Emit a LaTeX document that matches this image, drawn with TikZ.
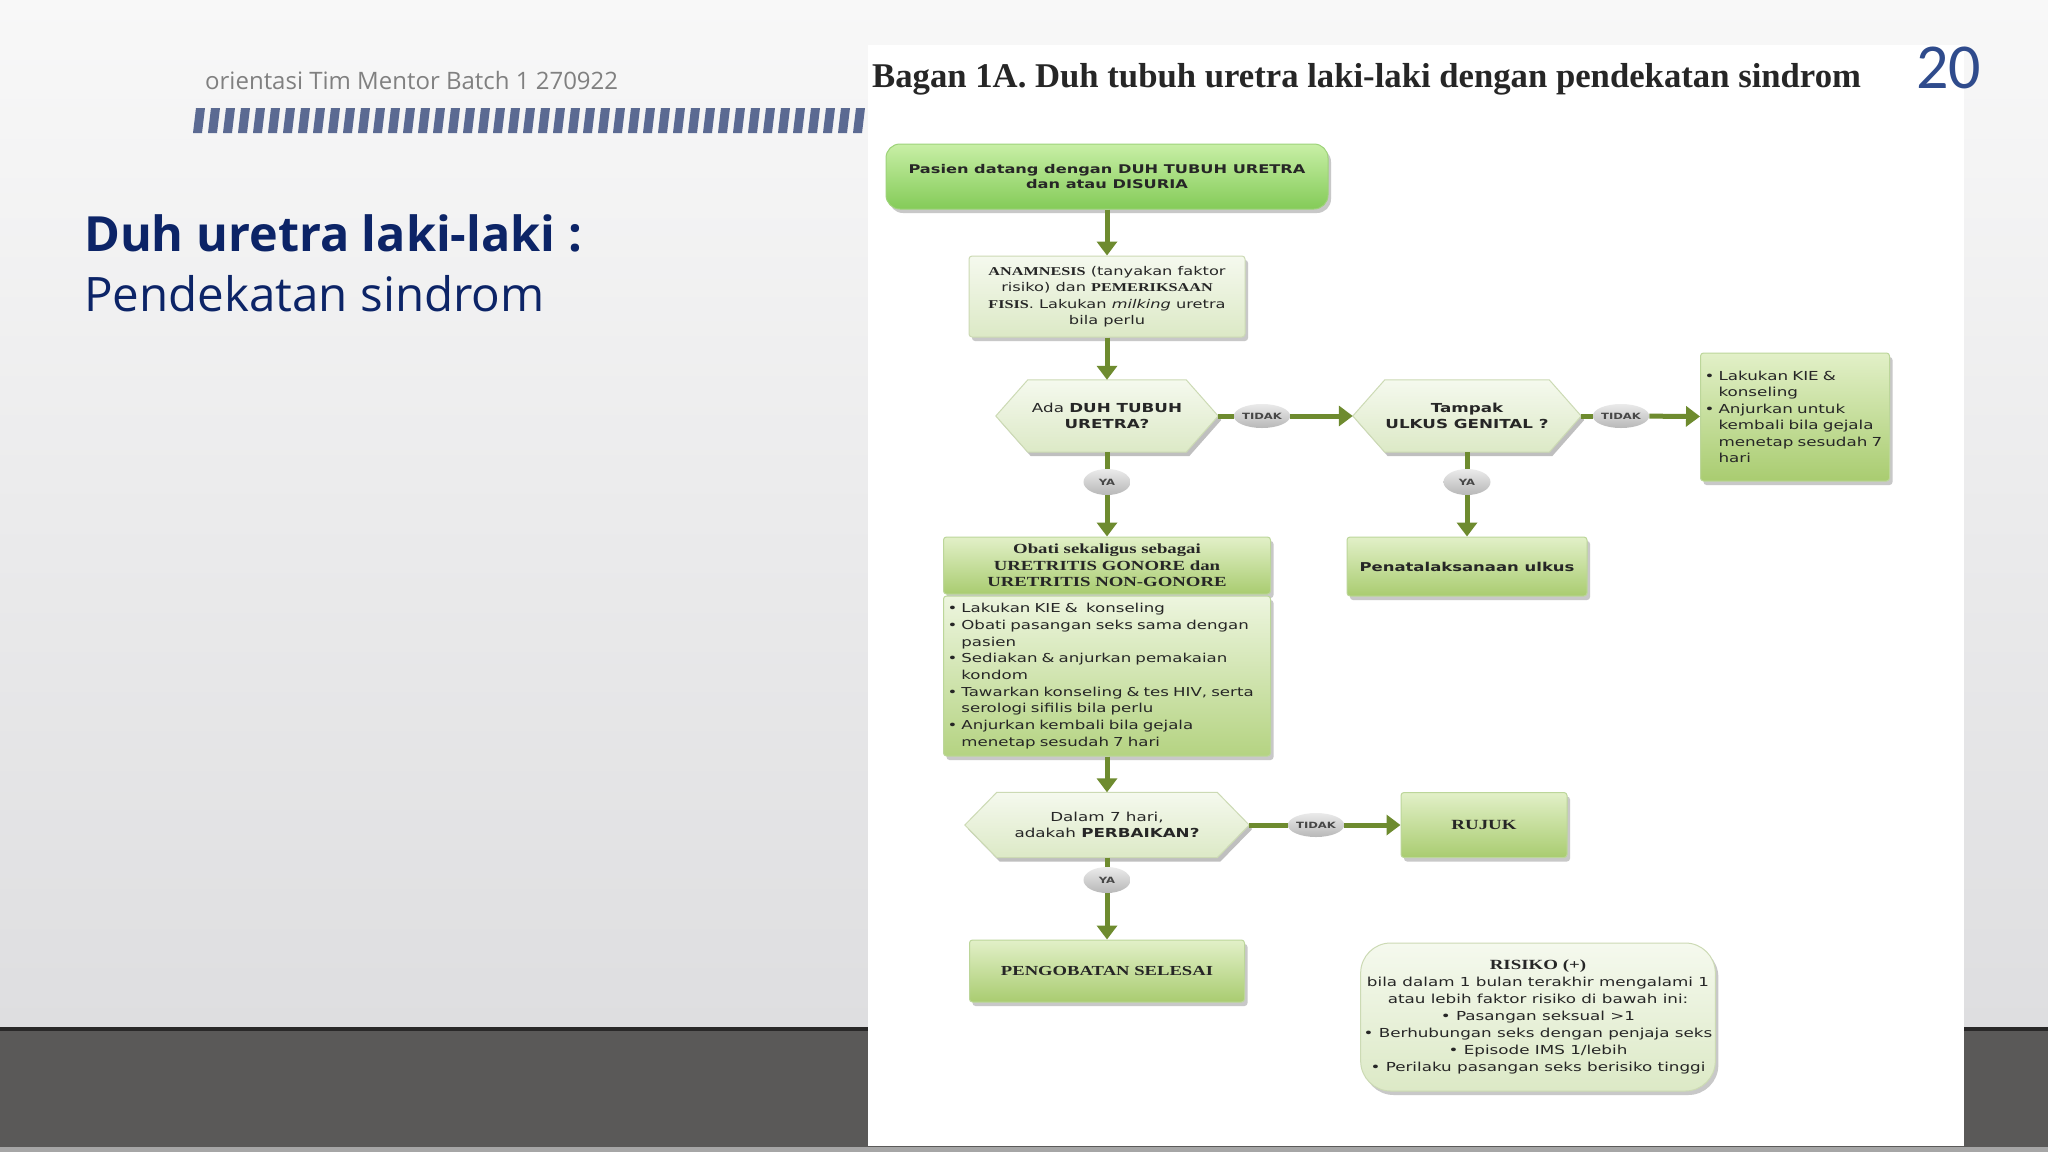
\documentclass[tikz,border=0pt]{standalone}
\usepackage{fontspec}
\usetikzlibrary{shadows,arrows.meta,shapes.geometric}
\newfontfamily\slidefont{Open Sans}
\newfontfamily\numfont{Carlito}
\newfontfamily\fcs[FakeStretch=1.35]{DejaVu Sans}
\newfontfamily\fcr[FakeStretch=1.35]{Liberation Serif}
\newfontfamily\titfont{Liberation Serif}
\pgfdeclarelayer{backdrop}
\pgfdeclarelayer{shapes}
\pgfsetlayers{backdrop,shapes,main}
\definecolor{arrowg}{HTML}{6E8B2F}
\definecolor{bonetop}{HTML}{C8EFA6}
\definecolor{bonebot}{HTML}{84CB58}
\definecolor{boneedge}{HTML}{9ED37A}
\definecolor{gtop}{HTML}{E2F0C8}
\definecolor{gbot}{HTML}{A9CC70}
\definecolor{gedge}{HTML}{BCD69A}
\definecolor{ltop}{HTML}{F5F9EE}
\definecolor{lbot}{HTML}{DCE9C6}
\definecolor{ledge}{HTML}{CCDAB4}
\definecolor{txt}{HTML}{262626}
\definecolor{navy}{HTML}{0C2467}
\definecolor{stripe}{HTML}{5B6A92}
\definecolor{numblue}{HTML}{2F4B8C}
\definecolor{slidetop}{HTML}{F8F8F8}
\definecolor{slidebot}{HTML}{DEDEE0}
\definecolor{band}{HTML}{5A5958}
\begin{document}
\begin{tikzpicture}[x=1pt,y=-1pt,
  shad/.style={drop shadow={shadow xshift=3pt,shadow yshift=-4pt,opacity=0.3,fill=black!70}},
  arr/.style={draw=arrowg,line width=5pt,-{Triangle[width=20pt,length=14pt]}},
  lnk/.style={draw=arrowg,line width=5pt},
  gbox/.style={rectangle,rounded corners=3pt,top color=gtop,bottom color=gbot,draw=gedge,line width=1pt,shad,text=txt,align=center,inner sep=3pt},
  lbox/.style={rectangle,rounded corners=3pt,top color=ltop,bottom color=lbot,draw=ledge,line width=1pt,shad,text=txt,align=center,inner sep=3pt},
  hexnode/.style={rectangle,draw=none,text=txt,align=center,inner sep=2pt,font=\fcs\fontsize{12.4}{15.5}\selectfont},
  lab/.style={ellipse,minimum width=52pt,minimum height=24pt,inner sep=0pt,top color=black!8,bottom color=black!28,text=txt!85,font=\fcs\bfseries\fontsize{8.6}{10}\selectfont},
  hexfill/.style={top color=ltop,bottom color=lbot,draw=ledge,line width=1pt},
]
\useasboundingbox (0,0) rectangle (2048,1152);
% ---------- slide backdrop ----------
\begin{pgfonlayer}{backdrop}
\shade[top color=slidetop,bottom color=slidebot] (0,0) rectangle (2048,1027);
\fill[band] (0,1027) rectangle (2048,1152);
\fill[black!55!band] (0,1027) rectangle (2048,1031);
\fill[black!35] (0,1147) rectangle (2048,1152);
\foreach \i in {0,...,45} {
  \fill[stripe] (193+\i*15,133) -- (202+\i*15,133) -- (205+\i*15,108) -- (196+\i*15,108) -- cycle;
}
\fill[white] (868,45) rectangle (1964,1146);
\end{pgfonlayer}
% ---------- slide texts ----------
\node[anchor=base west,text=black!50,font=\slidefont\fontsize{24}{28}\selectfont,inner sep=0pt] (hdr) at (205,89) {orientasi Tim Mentor Batch 1 270922};
\node[anchor=base west,text=navy,font=\slidefont\bfseries\fontsize{48.5}{56}\selectfont,inner sep=0pt] (t1line) at (84,251) {Duh uretra laki-laki :};
\node[anchor=base west,text=navy,font=\slidefont\fontsize{47.5}{56}\selectfont,inner sep=0pt] (t2line) at (84,311) {Pendekatan sindrom};
\node[anchor=base west,text=numblue,font=\numfont\fontsize{64}{70}\selectfont,inner sep=0pt] (pnum) at (1916,88) {20};
\node[anchor=base west,text=black!85,font=\titfont\bfseries\fontsize{34.7}{40}\selectfont,inner sep=0pt] (btitle) at (872,87) {Bagan 1A. Duh tubuh uretra laki-laki dengan pendekatan sindrom};
% ---------- flowchart nodes ----------
\node[rectangle,rounded corners=14pt,minimum width=442pt,minimum height=65pt,top color=bonetop,bottom color=bonebot,draw=boneedge,line width=1pt,shad,text=txt,align=center,font=\fcs\bfseries\fontsize{12}{15.5}\selectfont] (b1) at (1107,176.5) {Pasien datang dengan DUH TUBUH URETRA\\dan atau DISURIA};
\node[lbox,minimum width=276pt,minimum height=81pt,font=\fcs\fontsize{12}{16.5}\selectfont] (b2) at (1107,296.5) {{\fcr\bfseries ANAMNESIS} (tanyakan faktor\\risiko) dan {\fcr\bfseries PEMERIKSAAN}\\{\fcr\bfseries FISIS}. Lakukan \textit{milking} uretra\\bila perlu};
\node[hexnode,minimum width=222pt,minimum height=72pt] (h1) at (1107,416) {Ada {\bfseries DUH TUBUH}\\{\bfseries URETRA?}};
\node[lab] (t1) at (1262,416) {TIDAK};
\node[hexnode,minimum width=228pt,minimum height=72pt,font=\fcs\bfseries\fontsize{12.4}{15.5}\selectfont] (h2) at (1467,416) {Tampak\\ULKUS GENITAL ?};
\node[lab] (t2) at (1621,416) {TIDAK};
\node[gbox,minimum width=189pt,minimum height=128pt,text width=181pt,align=left,font=\fcs\fontsize{12.4}{16.5}\selectfont] (bR) at (1795,417) {\textbullet\ Lakukan KIE \&\\\hphantom{\textbullet\ }konseling\\\textbullet\ Anjurkan untuk\\\hphantom{\textbullet\ }kembali bila gejala\\\hphantom{\textbullet\ }menetap sesudah 7\\\hphantom{\textbullet\ }hari};
\node[lab,minimum width=47pt,minimum height=26pt] (ya1) at (1107,482) {YA};
\node[lab,minimum width=47pt,minimum height=26pt] (ya2) at (1467,482) {YA};
\node[gbox,minimum width=327pt,minimum height=57pt,font=\fcr\bfseries\fontsize{13.9}{16.5}\selectfont] (b3h) at (1107,565.5) {Obati sekaligus sebagai\\URETRITIS GONORE dan\\URETRITIS NON-GONORE};
\node[gbox,top color=ltop!60!gtop,bottom color=gbot!80!gtop,minimum width=327pt,minimum height=160pt,text width=319pt,align=left,font=\fcs\fontsize{12.3}{16.7}\selectfont] (b3b) at (1107,676) {\textbullet\ Lakukan KIE \&\ \ konseling\\\textbullet\ Obati pasangan seks sama dengan\\\hphantom{\textbullet\ }pasien\\\textbullet\ Sediakan \& anjurkan pemakaian\\\hphantom{\textbullet\ }kondom\\\textbullet\ Tawarkan konseling \& tes HIV, serta\\\hphantom{\textbullet\ }serologi sifilis bila perlu\\\textbullet\ Anjurkan kembali bila gejala\\\hphantom{\textbullet\ }menetap sesudah 7 hari};
\node[gbox,minimum width=240pt,minimum height=59pt,font=\fcs\bfseries\fontsize{12.2}{16}\selectfont] (bU) at (1467,566.5) {Penatalaksanaan ulkus};
\node[hexnode,minimum width=284pt,minimum height=65pt] (h3) at (1107,825) {Dalam 7 hari,\\adakah {\bfseries PERBAIKAN?}};
\node[lab] (t3) at (1316,825) {TIDAK};
\node[gbox,minimum width=166pt,minimum height=65pt,font=\fcr\bfseries\fontsize{14}{16}\selectfont] (rj) at (1484,825) {RUJUK};
\node[lab,minimum width=47pt,minimum height=26pt] (ya3) at (1107,880) {YA};
\node[gbox,minimum width=275pt,minimum height=62pt,font=\fcr\bfseries\fontsize{13.8}{16}\selectfont] (sel) at (1107,971) {PENGOBATAN SELESAI};
\node[lbox,rounded corners=30pt,minimum width=352pt,minimum height=148pt,font=\fcs\fontsize{12.4}{17}\selectfont] (risk) at (1538,1017) {{\fcr\bfseries\fontsize{14}{17}\selectfont RISIKO (+)}\\bila dalam 1 bulan terakhir mengalami 1\\atau lebih faktor risiko di bawah ini:\\\textbullet\ Pasangan seksual >1\\\textbullet\ Berhubungan seks dengan penjaja seks\\\textbullet\ Episode IMS 1/lebih\\\textbullet\ Perilaku pasangan seks berisiko tinggi};
% ---------- hexagon outlines ----------
\begin{pgfonlayer}{shapes}
\foreach \n in {h1,h2,h3} {
  \begin{scope}[transform canvas={shift={(3pt,-4pt)}}]
  \fill[black,opacity=0.25] (\n.west) -- ([xshift=32pt]\n.north west) -- ([xshift=-32pt]\n.north east) -- (\n.east) -- ([xshift=-32pt]\n.south east) -- ([xshift=32pt]\n.south west) -- cycle;
  \end{scope}
  \shade[hexfill] (\n.west) -- ([xshift=32pt]\n.north west) -- ([xshift=-32pt]\n.north east) -- (\n.east) -- ([xshift=-32pt]\n.south east) -- ([xshift=32pt]\n.south west) -- cycle;
}
\end{pgfonlayer}
% ---------- connectors ----------
\draw[arr] (b1) -- (b2);
\draw[arr] (b2) -- (h1);
\draw[lnk] (h1) -- (t1);
\draw[arr] (t1) -- (h2);
\draw[lnk] (h2) -- (t2);
\draw[arr] (t2) -- (bR);
\draw[lnk] (h1) -- (ya1);
\draw[arr] (ya1) -- (b3h);
\draw[lnk] (h2) -- (ya2);
\draw[arr] (ya2) -- (bU);
\draw[arr] (b3b) -- (h3);
\draw[lnk] (h3) -- (t3);
\draw[arr] (t3) -- (rj);
\draw[lnk] (h3) -- (ya3);
\draw[arr] (ya3) -- (sel);
\end{tikzpicture}
\end{document}
